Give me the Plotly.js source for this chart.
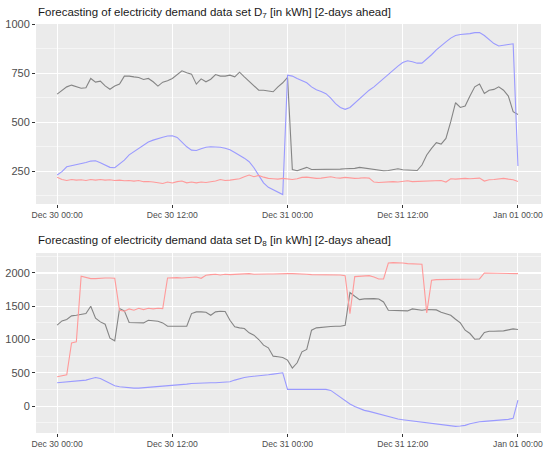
<!DOCTYPE html>
<html>
<head>
<meta charset="utf-8">
<script src="https://cdn.plot.ly/plotly-3.0.1.min.js"></script>
<style>html,body{margin:0;padding:0;background:#fff;}#chart{width:550px;height:451px;}</style>
</head>
<body>
<div id="chart"></div>
<script>
// Half-hourly values, Dec 30 00:00 -> Jan 01 00:00 (97 points each)
// Data set D7
const d7Gray = [643,660,680,689,682,673,675,723,704,709,685,668,684,694,735,735,731,728,718,723,706,684,704,711,723,745,762,752,745,694,721,706,719,743,735,735,740,731,755,731,709,689,663,663,658,655,680,701,728,
  258,252,262,269,258,258,258,260,258,260,260,262,262,264,269,265,262,258,253,252,253,258,262,257,255,252,253,281,332,366,395,388,417,502,599,575,582,633,680,694,646,663,667,680,663,633,553,539];
const d7Blue = [230,247,272,277,282,287,294,301,303,293,281,269,267,286,306,333,349,364,378,398,408,417,423,429,430,422,398,374,357,355,364,372,374,374,372,367,359,345,332,316,298,267,228,190,167,155,146,130,740,
  735,723,713,701,680,665,656,645,622,594,575,565,575,597,621,645,663,680,702,723,747,764,786,804,813,808,801,801,821,844,869,891,910,929,942,947,949,952,957,957,942,922,901,889,891,896,900,276];
const d7Red = [218,207,202,207,204,206,202,207,204,207,204,206,202,204,201,202,199,202,196,197,194,190,187,194,189,196,199,190,194,190,194,192,196,199,207,202,204,206,211,221,230,221,228,219,213,211,209,213,211,
  207,211,218,219,216,213,214,218,221,216,214,218,214,213,214,216,214,194,192,194,196,196,194,199,201,196,197,201,202,202,204,202,194,211,209,211,213,211,213,214,199,206,207,211,213,209,206,197];
// Data set D8
const d8Gray = [1215,1280,1300,1355,1365,1375,1390,1500,1320,1265,1230,1020,980,1465,1430,1255,1250,1255,1250,1290,1280,1275,1250,1200,1200,1200,1200,1200,1390,1415,1415,1410,1365,1415,1425,1420,1290,1190,1175,1165,1100,1065,1000,915,875,750,740,730,690,
  570,650,815,850,1140,1175,1185,1190,1195,1200,1200,1215,1705,1650,1600,1610,1615,1615,1610,1565,1440,1440,1435,1430,1430,1460,1445,1440,1450,1450,1445,1410,1390,1365,1305,1250,1140,1090,1005,1010,1105,1125,1125,1125,1130,1145,1160,1150];
const d8Blue = [350,355,360,365,375,380,390,410,430,415,375,335,305,290,280,270,270,270,275,285,290,295,305,310,310,315,320,330,340,345,345,350,350,350,355,355,365,390,415,430,440,445,455,460,470,480,490,500,250,
  250,250,250,250,250,250,250,250,235,185,140,80,30,-5,-40,-65,-80,-100,-115,-135,-160,-175,-195,-205,-215,-225,-235,-240,-250,-260,-275,-285,-295,-300,-305,-300,-290,-265,-245,-235,-230,-225,-220,-215,-205,-200,-185,90];
const d8Red = [440,460,470,950,965,1950,1930,1915,1915,1925,1925,1925,1920,1440,1425,1460,1440,1470,1450,1470,1460,1470,1465,1925,1930,1930,1925,1930,1930,1940,1920,1965,1975,1980,1970,1980,1975,1980,1980,1985,1990,1980,1985,1990,1985,1985,1990,1990,1990,
  1990,1990,1980,1980,1975,1975,1970,1970,1970,1970,1970,1960,1390,1945,1950,1955,1960,1940,1910,1910,2150,2155,2155,2150,2140,2135,2130,2130,1400,1890,1900,1900,1900,1900,1900,1900,1900,1900,1905,1910,2000,2000,2000,1995,1995,1990,1990,1990];

const titles = [
  'Forecasting of electricity demand data set D<sub>7</sub> [in kWh] [2-days ahead]',
  'Forecasting of electricity demand data set D<sub>8</sub> [in kWh] [2-days ahead]'
];

const H = 3600000;
const base = Date.UTC(2018, 11, 30);
const times = d7Gray.map((_, i) => base + i * 0.5 * H);

const colGray = '#858585', colBlue = '#9a9aff', colRed = '#ff9a9a';
function tr(y, c, xa, ya) {
  return {x: times, y: y, type: 'scatter', mode: 'lines', xaxis: xa, yaxis: ya,
          line: {color: c, width: 1.1}, hoverinfo: 'skip', showlegend: false};
}
const data = [
  tr(d7Gray, colGray, 'x', 'y'), tr(d7Blue, colBlue, 'x', 'y'), tr(d7Red, colRed, 'x', 'y'),
  tr(d8Gray, colGray, 'x2', 'y2'), tr(d8Blue, colBlue, 'x2', 'y2'), tr(d8Red, colRed, 'x2', 'y2')
];

const font = 'Liberation Sans, Arial, sans-serif';
function xax(anchor) {
  return {
    domain: [0.0655, 0.9836], anchor: anchor, type: 'date',
    range: [base - 2.2 * H, base + 50.4 * H],
    tick0: base, dtick: 12 * H, tickformat: '%b %d %H:%M',
    showgrid: true, gridcolor: '#ffffff', gridwidth: 1.1,
    minor: {tick0: base, dtick: 6 * H, showgrid: true, gridcolor: '#ffffff', gridwidth: 0.5},
    ticks: 'outside', ticklen: 3, tickcolor: '#333333', tickwidth: 1,
    tickfont: {family: font, size: 8.6, color: '#4d4d4d'},
    zeroline: false, showline: false, fixedrange: true
  };
}
function yax(anchor, dom, rng, dt) {
  return {
    domain: dom, anchor: anchor, range: rng, tick0: 0, dtick: dt,
    showgrid: true, gridcolor: '#ffffff', gridwidth: 1.1,
    minor: {tick0: 0, dtick: dt / 2, showgrid: true, gridcolor: '#ffffff', gridwidth: 0.5},
    ticks: 'outside', ticklen: 3, tickcolor: '#333333', tickwidth: 1,
    tickfont: {family: font, size: 11, color: '#4d4d4d'},
    zeroline: false, showline: false, fixedrange: true
  };
}
const layout = {
  width: 550, height: 451,
  margin: {l: 0, r: 0, t: 0, b: 0},
  paper_bgcolor: '#ffffff', plot_bgcolor: '#ebebeb',
  showlegend: false,
  xaxis: xax('y'),
  yaxis: yax('x', [0.5477, 0.9468], [82, 1001], 250),
  xaxis2: xax('y2'),
  yaxis2: yax('x2', [0.0399, 0.439], [-405, 2300], 500),
  annotations: [
    {text: titles[0], xref: 'paper', yref: 'paper', x: 0.066, y: 0.971, xanchor: 'left', yanchor: 'middle',
     showarrow: false, font: {family: font, size: 11.5, color: '#1a1a1a'}},
    {text: titles[1], xref: 'paper', yref: 'paper', x: 0.066, y: 0.4656, xanchor: 'left', yanchor: 'middle',
     showarrow: false, font: {family: font, size: 11.5, color: '#1a1a1a'}}
  ]
};
Plotly.newPlot('chart', data, layout, {staticPlot: true, displayModeBar: false});
</script>
</body>
</html>
